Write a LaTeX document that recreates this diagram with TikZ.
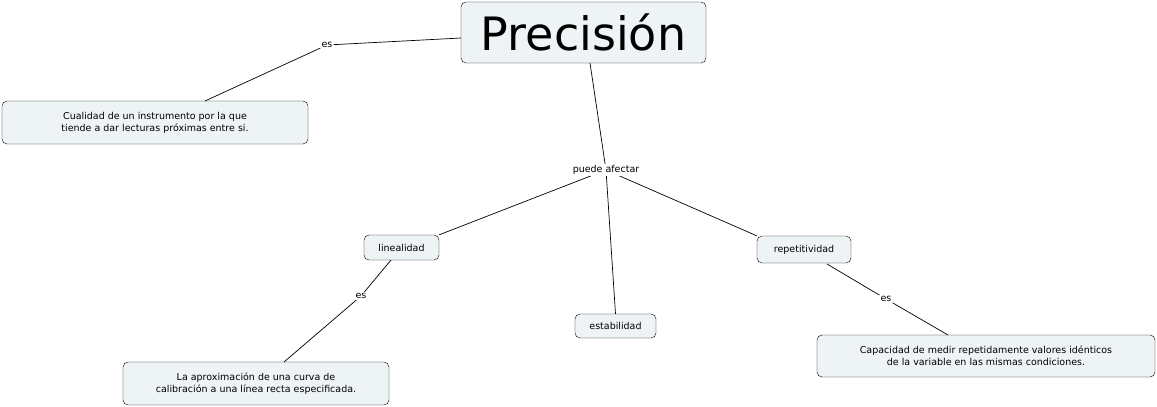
\documentclass[tikz,border=0pt]{standalone}
\usepackage{fontspec}
\setmainfont{DejaVu Sans}
\begin{document}
\begin{tikzpicture}[x=1pt,y=-1pt,
  box/.style={draw,rounded corners=5pt,fill=boxfill,inner sep=0pt,align=center,font=\fontsize{9.5}{12}\selectfont},
  lab/.style={fill=white,inner sep=1pt,font=\fontsize{9.5}{12}\selectfont},
  conn/.style={draw,line width=0.7pt}]
\definecolor{boxfill}{HTML}{EEF4F6}
\useasboundingbox (0,0) rectangle (1157,407);
\node[box,minimum width=245pt,minimum height=61pt,font=\fontsize{46}{50}\selectfont] (p) at (583.5,32.5) {Precisión};
\node[box,minimum width=306pt,minimum height=43pt] (c) at (155,122.5) {Cualidad de un instrumento por la que\\tiende a dar lecturas próximas entre si.};
\node[box,minimum width=75pt,minimum height=25pt] (l) at (401.5,247.5) {linealidad};
\node[box,minimum width=81pt,minimum height=24pt] (e) at (615.5,326) {estabilidad};
\node[box,minimum width=94pt,minimum height=27pt] (r) at (804,249.5) {repetitividad};
\node[box,minimum width=266pt,minimum height=43pt] (a) at (256,383.5) {La aproximación de una curva de\\calibración a una línea recta especificada.};
\node[box,minimum width=338pt,minimum height=42pt] (cap) at (986,356) {Capacidad de medir repetidamente valores idénticos\\de la variable en las mismas condiciones.};
\node[lab] (es1) at (327,45) {es};
\node[lab] (pa) at (606,170) {puede afectar};
\node[lab] (es2) at (361,296) {es};
\node[lab] (es3) at (886,299) {es};
\coordinate (p1) at (461,38);
\coordinate (p2) at (590,63);
\begin{scope}[on background layer/.style={}]
\end{scope}
\draw[conn] (p1) -- (es1);
\draw[conn] (es1) -- (205,101);
\draw[conn] (p2) -- (pa);
\draw[conn] (pa) -- (l.north east);
\draw[conn] (pa) -- (e.north);
\draw[conn] (pa) -- (r.north west);
\draw[conn] (391,260) -- (es2);
\draw[conn] (es2) -- (284,362);
\draw[conn] (827,264) -- (es3);
\draw[conn] (es3) -- (948,335);
\node[lab] at (es1) {es};
\node[lab] at (pa) {puede afectar};
\node[lab] at (es2) {es};
\node[lab] at (es3) {es};
\end{tikzpicture}
\end{document}
